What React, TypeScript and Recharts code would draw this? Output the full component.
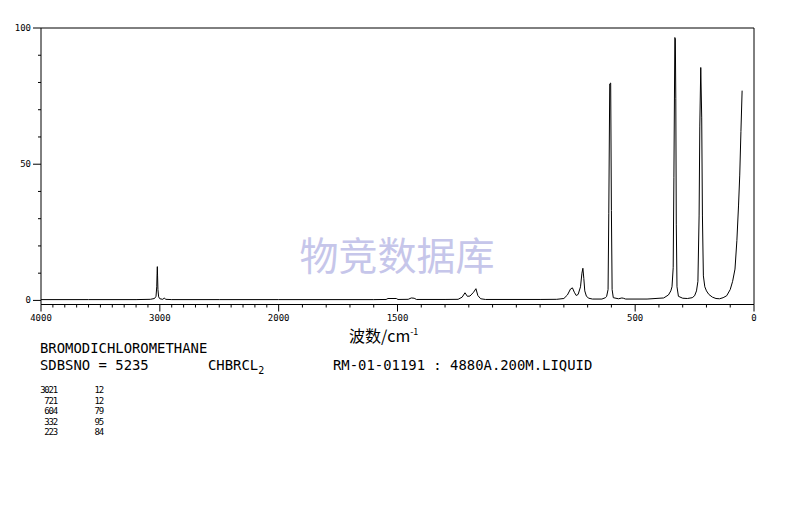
import React from 'react';
import { LineChart, Line, XAxis, YAxis, ReferenceLine } from 'recharts';

// Raman spectrum, wavenumber (cm-1) and relative intensity
const wavenumbers = [
  4000, 3600, 3200, 3080, 3045, 3032, 3026, 3023, 3021, 3019, 3016, 3010, 3000, 2975, 2962, 2952, 2900,
  2500, 2000, 1600, 1548, 1540, 1505, 1498, 1455, 1442, 1430, 1420, 1300, 1245, 1228, 1216, 1206,
  1195, 1180, 1170, 1162, 1150, 1130, 900, 830, 800, 785, 772, 764, 756, 748, 740, 730, 724, 720,
  716, 712, 705, 695, 680, 640, 625, 620, 614, 611, 607, 603, 600, 597, 592, 570, 556, 550, 540,
  450, 380, 360, 350, 345, 340, 337, 333, 331, 329, 327, 324, 318, 300, 280, 260, 250, 242, 236,
  231, 228, 224, 220, 217, 213, 207, 200, 190, 175, 160, 145, 130, 115, 100, 90, 80, 72, 65, 60,
  55, 50,
];
const intensities = [
  0.3, 0.3, 0.3, 0.4, 0.7, 1.5, 5, 10, 12.4, 9, 4, 1.3, 0.6, 0.4, 0.9, 0.4, 0.3,
  0.3, 0.3, 0.3, 0.35, 0.7, 0.7, 0.35, 0.4, 0.9, 0.8, 0.35, 0.35, 0.4, 1.2, 2.8, 1.5,
  1.6, 3, 4.3, 1.8, 0.6, 0.35, 0.35, 0.4, 0.7, 2, 4.2, 4.6, 3, 1.8, 2.2, 5, 10, 11.8,
  8, 3.5, 1.5, 0.8, 0.5, 0.5, 1, 1.5, 4, 32, 79.5, 79.8, 33, 4, 1, 0.6, 0.9, 0.8, 0.5,
  0.5, 0.9, 2, 3.5, 5, 12, 45, 96.5, 96, 74, 28, 5, 1.5, 0.8, 0.7, 1, 1.7, 3.5, 7,
  31, 64, 85.5, 67, 31, 9, 5, 3.5, 2.2, 1.2, 0.7, 0.6, 1, 1.7, 4, 7, 11.5, 22, 35, 46,
  62, 77,
];

const xMajor = [4000, 3000, 2000, 1500, 500, 0];
const xTickWn = Array.from({ length: 41 }, (_, i) => i * 100);
const yMajor = [0, 50, 100];
const yTicks = [0, 10, 20, 30, 40, 50, 60, 70, 80, 90, 100];

const peakWn = ['3021', '721', '604', '332', '223'];
const peakInt = ['12', '12', '79', '95', '84'];

// axis is compressed by half above 2000 cm-1
const toPos = (w: number) => (w <= 2000 ? w : 2000 + (w - 2000) / 2);
const toWn = (p: number) => (p <= 2000 ? p : 2000 + (p - 2000) * 2);

const data = wavenumbers.map((w, i) => ({ pos: toPos(w), v: intensities[i] }));

const mono = '"DejaVu Sans Mono", monospace';

const XTick = (props: any) => {
  const { x, y, payload } = props;
  const w = Math.round(toWn(payload.value));
  const major = xMajor.includes(w);
  return (
    <g>
      <line x1={x} x2={x} y1={y} y2={y + (major ? 7 : 3)} stroke="#000" />
      {major && (
        <text x={x} y={y + 16} textAnchor="middle" fontSize={9} fontFamily={mono} fill="#000">
          {w}
        </text>
      )}
    </g>
  );
};

const YTick = (props: any) => {
  const { x, y, payload } = props;
  const major = yMajor.includes(payload.value);
  return (
    <g>
      <line x1={x - (major ? 8 : 3)} x2={x} y1={y} y2={y} stroke="#000" />
      {major && (
        <text x={x - 10} y={y + 3} textAnchor="end" fontSize={9} fontFamily={mono} fill="#000">
          {payload.value}
        </text>
      )}
    </g>
  );
};

export default function App() {
  return (
    <div style={{ position: 'absolute', left: 0, top: 0, width: 794, height: 510, background: '#fff' }}>
      <LineChart
        width={794}
        height={510}
        data={data}
        margin={{ top: 28, right: 40, left: 0, bottom: 175.5 }}
      >
        <XAxis
          type="number"
          dataKey="pos"
          domain={[0, 3000]}
          reversed
          ticks={xTickWn.map(toPos)}
          interval={0}
          tick={XTick}
          tickLine={false}
          tickSize={0}
          tickMargin={0}
          axisLine={{ stroke: '#000' }}
          height={30}
          allowDataOverflow
        />
        <YAxis
          type="number"
          domain={[-1.5, 100]}
          ticks={yTicks}
          interval={0}
          tick={YTick}
          tickLine={false}
          tickSize={0}
          tickMargin={0}
          axisLine={{ stroke: '#000' }}
          width={41}
          allowDataOverflow
        />
        <ReferenceLine y={100} stroke="#000" />
        <ReferenceLine x={0} stroke="#000" />
        <Line
          type="linear"
          dataKey="v"
          stroke="#000"
          strokeWidth={1}
          dot={false}
          isAnimationActive={false}
        />
      </LineChart>
      <svg
        width={794}
        height={510}
        style={{ position: 'absolute', left: 0, top: 0, pointerEvents: 'none' }}
      >
        <text x={397} y={270} textAnchor="middle" fontSize={39} fontFamily='"Noto Sans CJK SC"' fill="#c6c6ea">
          物竞数据库
        </text>
        <text x={349} y={342} fontSize={16} fontFamily='"Noto Sans CJK SC"' fill="#000">
          波数/cm<tspan fontSize={9} dy={-7}>-1</tspan>
        </text>
        <g fontFamily={mono} fontSize={13.9} fill="#000">
          <text x={40} y={353}>BROMODICHLOROMETHANE</text>
          <text x={40} y={370}>SDBSNO = 5235</text>
          <text x={208} y={370}>
            CHBRCL<tspan fontSize={10} dy={4}>2</tspan>
          </text>
          <text x={333} y={370}>RM-01-01191 : 4880A.200M.LIQUID</text>
        </g>
        <g fontFamily={mono} fontSize={9} fill="#000" letterSpacing={-1.2}>
          {peakWn.map((w, i) => (
            <text key={'w' + i} x={57} y={393 + i * 10.5} textAnchor="end">
              {w}
            </text>
          ))}
          {peakInt.map((v, i) => (
            <text key={'v' + i} x={103} y={393 + i * 10.5} textAnchor="end">
              {v}
            </text>
          ))}
        </g>
      </svg>
    </div>
  );
}
